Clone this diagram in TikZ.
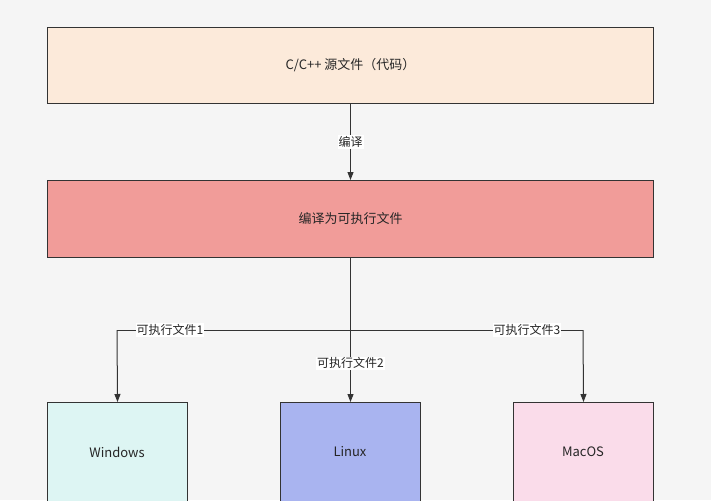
\documentclass[tikz,border=0pt]{standalone}
\usepackage{fontspec}
\setmainfont{Noto Sans CJK SC}
\usetikzlibrary{arrows.meta}
\begin{document}
\begin{tikzpicture}[x=1pt,y=-1pt,
 box/.style={draw=black!80,line width=1pt,anchor=north west,font=\fontsize{13}{15}\selectfont,text=black!85},
 arr/.style={draw=black!80,line width=1pt,-{Triangle[length=8pt,width=6pt]}},
 ln/.style={draw=black!80,line width=1pt},
 lab/.style={fill=white,font=\fontsize{12}{14}\selectfont,inner sep=1pt,text=black!85}]
\fill[white!96!black] (0,0) rectangle (711,500);
\useasboundingbox (0,0) rectangle (711,500);
\node[box,fill={rgb,255:red,252;green,234;blue,218},minimum width=606pt,minimum height=76pt] (src) at (47,27) {C/C++ 源文件（代码）};
\node[box,fill={rgb,255:red,241;green,156;blue,153},minimum width=606pt,minimum height=77pt] (exe) at (47,180) {编译为可执行文件};
\node[box,fill={rgb,255:red,221;green,245;blue,243},minimum width=140pt,minimum height=100pt] (win) at (47,402) {};
\node[box,fill={rgb,255:red,169;green,180;blue,240},minimum width=140pt,minimum height=100pt] (lin) at (280,402) {};
\node[box,fill={rgb,255:red,250;green,220;blue,234},minimum width=140pt,minimum height=100pt] (mac) at (513,402) {};
\node[font=\fontsize{13}{15}\selectfont,text=black!85] (wt) at (117,452) {Windows};
\node[font=\fontsize{13}{15}\selectfont,text=black!85] (lt) at (350,452) {Linux};
\node[font=\fontsize{13}{15}\selectfont,text=black!85] (mt) at (583,452) {MacOS};
\draw[arr] (src) -- node[lab]{编译} (exe);
\coordinate (j) at (350,330);
\coordinate (jl) at (117,330);
\coordinate (jr) at (583,330);
\draw[arr] (exe.south) -- node[lab,pos=0.73]{可执行文件2} (lin.north);
\draw[ln] (jl) -- (jr);
\draw[arr] (jl) -- (win.north);
\draw[arr] (jr) -- (mac.north);
\node[lab] at (170,330) {可执行文件1};
\node[lab] at (527,330) {可执行文件3};
\end{tikzpicture}
\end{document}
